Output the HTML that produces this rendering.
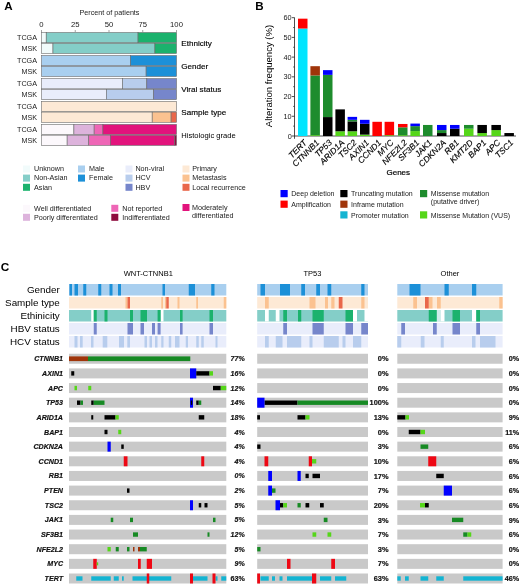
<!DOCTYPE html>
<html><head><meta charset="utf-8"><title>Figure</title>
<style>
html,body{margin:0;padding:0;background:#fff;}
body{width:520px;height:585px;overflow:hidden;}
svg{display:block;font-family:"Liberation Sans",Arial,sans-serif;}
</style></head><body>
<svg width="520" height="585" viewBox="0 0 520 585" shape-rendering="auto">
<rect x="0" y="0" width="520" height="585" fill="#ffffff"/>
<text x="4.30" y="10.30" font-size="11.6" text-anchor="start" font-weight="bold" font-style="normal" fill="#000">A</text>
<text x="109.50" y="14.60" font-size="7.2" text-anchor="middle" font-weight="normal" font-style="normal" fill="#1a1a1a">Percent of patients</text>
<text x="41.50" y="27.10" font-size="7.7" text-anchor="middle" font-weight="normal" font-style="normal" fill="#1a1a1a">0</text>
<line x1="41.50" y1="30" x2="41.50" y2="32" stroke="#666" stroke-width="0.6"/>
<text x="75.25" y="27.10" font-size="7.7" text-anchor="middle" font-weight="normal" font-style="normal" fill="#1a1a1a">25</text>
<line x1="75.25" y1="30" x2="75.25" y2="32" stroke="#666" stroke-width="0.6"/>
<text x="109.00" y="27.10" font-size="7.7" text-anchor="middle" font-weight="normal" font-style="normal" fill="#1a1a1a">50</text>
<line x1="109.00" y1="30" x2="109.00" y2="32" stroke="#666" stroke-width="0.6"/>
<text x="142.75" y="27.10" font-size="7.7" text-anchor="middle" font-weight="normal" font-style="normal" fill="#1a1a1a">75</text>
<line x1="142.75" y1="30" x2="142.75" y2="32" stroke="#666" stroke-width="0.6"/>
<text x="176.50" y="27.10" font-size="7.7" text-anchor="middle" font-weight="normal" font-style="normal" fill="#1a1a1a">100</text>
<line x1="176.50" y1="30" x2="176.50" y2="32" stroke="#666" stroke-width="0.6"/>
<rect x="41.50" y="32.50" width="4.72" height="10.20" fill="#F1FBFB" stroke="#6b6b6b" stroke-width="0.6"/>
<rect x="46.23" y="32.50" width="91.80" height="10.20" fill="#84CEC8" stroke="#6b6b6b" stroke-width="0.6"/>
<rect x="138.03" y="32.50" width="38.48" height="10.20" fill="#1BB26D" stroke="#6b6b6b" stroke-width="0.6"/>
<text x="37.00" y="40.30" font-size="7.2" text-anchor="end" font-weight="normal" font-style="normal" fill="#1a1a1a">TCGA</text>
<rect x="41.50" y="43.30" width="11.47" height="10.20" fill="#F1FBFB" stroke="#6b6b6b" stroke-width="0.6"/>
<rect x="52.98" y="43.30" width="101.92" height="10.20" fill="#84CEC8" stroke="#6b6b6b" stroke-width="0.6"/>
<rect x="154.90" y="43.30" width="21.60" height="10.20" fill="#1BB26D" stroke="#6b6b6b" stroke-width="0.6"/>
<text x="37.00" y="51.10" font-size="7.2" text-anchor="end" font-weight="normal" font-style="normal" fill="#1a1a1a">MSK</text>
<text x="181.30" y="45.70" font-size="8.1" text-anchor="start" font-weight="normal" font-style="normal" fill="#000" stroke="#000" stroke-width="0.15">Ethnicity</text>
<rect x="41.50" y="55.50" width="89.10" height="10.20" fill="#A9CFEF" stroke="#6b6b6b" stroke-width="0.6"/>
<rect x="130.60" y="55.50" width="45.90" height="10.20" fill="#1C90D8" stroke="#6b6b6b" stroke-width="0.6"/>
<text x="37.00" y="63.30" font-size="7.2" text-anchor="end" font-weight="normal" font-style="normal" fill="#1a1a1a">TCGA</text>
<rect x="41.50" y="66.30" width="104.62" height="10.20" fill="#A9CFEF" stroke="#6b6b6b" stroke-width="0.6"/>
<rect x="146.12" y="66.30" width="30.38" height="10.20" fill="#1C90D8" stroke="#6b6b6b" stroke-width="0.6"/>
<text x="37.00" y="74.10" font-size="7.2" text-anchor="end" font-weight="normal" font-style="normal" fill="#1a1a1a">MSK</text>
<text x="181.30" y="68.70" font-size="8.1" text-anchor="start" font-weight="normal" font-style="normal" fill="#000" stroke="#000" stroke-width="0.15">Gender</text>
<rect x="41.50" y="78.60" width="81.00" height="10.20" fill="#E9EDFB" stroke="#6b6b6b" stroke-width="0.6"/>
<rect x="122.50" y="78.60" width="24.30" height="10.20" fill="#B8CDED" stroke="#6b6b6b" stroke-width="0.6"/>
<rect x="146.80" y="78.60" width="29.70" height="10.20" fill="#7686CB" stroke="#6b6b6b" stroke-width="0.6"/>
<text x="37.00" y="86.40" font-size="7.2" text-anchor="end" font-weight="normal" font-style="normal" fill="#1a1a1a">TCGA</text>
<rect x="41.50" y="89.40" width="64.80" height="10.20" fill="#E9EDFB" stroke="#6b6b6b" stroke-width="0.6"/>
<rect x="106.30" y="89.40" width="47.25" height="10.20" fill="#B8CDED" stroke="#6b6b6b" stroke-width="0.6"/>
<rect x="153.55" y="89.40" width="22.95" height="10.20" fill="#7686CB" stroke="#6b6b6b" stroke-width="0.6"/>
<text x="37.00" y="97.20" font-size="7.2" text-anchor="end" font-weight="normal" font-style="normal" fill="#1a1a1a">MSK</text>
<text x="181.30" y="91.80" font-size="8.1" text-anchor="start" font-weight="normal" font-style="normal" fill="#000" stroke="#000" stroke-width="0.15">Viral status</text>
<rect x="41.50" y="101.30" width="135.00" height="10.20" fill="#FDE9D5" stroke="#6b6b6b" stroke-width="0.6"/>
<text x="37.00" y="109.10" font-size="7.2" text-anchor="end" font-weight="normal" font-style="normal" fill="#1a1a1a">TCGA</text>
<rect x="41.50" y="112.10" width="110.70" height="10.20" fill="#FDE9D5" stroke="#6b6b6b" stroke-width="0.6"/>
<rect x="152.20" y="112.10" width="18.90" height="10.20" fill="#FBC290" stroke="#6b6b6b" stroke-width="0.6"/>
<rect x="171.10" y="112.10" width="5.40" height="10.20" fill="#E9674A" stroke="#6b6b6b" stroke-width="0.6"/>
<text x="37.00" y="119.90" font-size="7.2" text-anchor="end" font-weight="normal" font-style="normal" fill="#1a1a1a">MSK</text>
<text x="181.30" y="114.50" font-size="8.1" text-anchor="start" font-weight="normal" font-style="normal" fill="#000" stroke="#000" stroke-width="0.15">Sample type</text>
<rect x="41.50" y="124.40" width="32.40" height="10.20" fill="#FCF8FC" stroke="#6b6b6b" stroke-width="0.6"/>
<rect x="73.90" y="124.40" width="20.25" height="10.20" fill="#DDB3DC" stroke="#6b6b6b" stroke-width="0.6"/>
<rect x="94.15" y="124.40" width="8.78" height="10.20" fill="#EE66B6" stroke="#6b6b6b" stroke-width="0.6"/>
<rect x="102.92" y="124.40" width="73.58" height="10.20" fill="#E2137C" stroke="#6b6b6b" stroke-width="0.6"/>
<text x="37.00" y="132.20" font-size="7.2" text-anchor="end" font-weight="normal" font-style="normal" fill="#1a1a1a">TCGA</text>
<rect x="41.50" y="135.20" width="25.65" height="10.20" fill="#FCF8FC" stroke="#6b6b6b" stroke-width="0.6"/>
<rect x="67.15" y="135.20" width="21.60" height="10.20" fill="#DDB3DC" stroke="#6b6b6b" stroke-width="0.6"/>
<rect x="88.75" y="135.20" width="21.60" height="10.20" fill="#EE66B6" stroke="#6b6b6b" stroke-width="0.6"/>
<rect x="110.35" y="135.20" width="64.39" height="10.20" fill="#E2137C" stroke="#6b6b6b" stroke-width="0.6"/>
<rect x="174.75" y="135.20" width="1.75" height="10.20" fill="#8E0C3E" stroke="#6b6b6b" stroke-width="0.6"/>
<text x="37.00" y="143.00" font-size="7.2" text-anchor="end" font-weight="normal" font-style="normal" fill="#1a1a1a">MSK</text>
<text x="181.30" y="137.60" font-size="7.6" text-anchor="start" font-weight="normal" font-style="normal" fill="#000">Histologic grade</text>
<rect x="23.00" y="165.50" width="7.00" height="7.00" fill="#F1FBFB"/>
<text x="34.00" y="171.30" font-size="7.2" text-anchor="start" font-weight="normal" font-style="normal" fill="#1a1a1a">Unknown</text>
<rect x="23.00" y="174.60" width="7.00" height="7.00" fill="#84CEC8"/>
<text x="34.00" y="180.40" font-size="7.2" text-anchor="start" font-weight="normal" font-style="normal" fill="#1a1a1a">Non-Asian</text>
<rect x="23.00" y="183.80" width="7.00" height="7.00" fill="#1BB26D"/>
<text x="34.00" y="189.60" font-size="7.2" text-anchor="start" font-weight="normal" font-style="normal" fill="#1a1a1a">Asian</text>
<rect x="78.00" y="165.50" width="7.00" height="7.00" fill="#A9CFEF"/>
<text x="89.00" y="171.30" font-size="7.2" text-anchor="start" font-weight="normal" font-style="normal" fill="#1a1a1a">Male</text>
<rect x="78.00" y="174.60" width="7.00" height="7.00" fill="#1C90D8"/>
<text x="89.00" y="180.40" font-size="7.2" text-anchor="start" font-weight="normal" font-style="normal" fill="#1a1a1a">Female</text>
<rect x="125.50" y="165.50" width="7.00" height="7.00" fill="#E9EDFB"/>
<text x="135.40" y="171.30" font-size="7.2" text-anchor="start" font-weight="normal" font-style="normal" fill="#1a1a1a">Non-viral</text>
<rect x="125.50" y="174.60" width="7.00" height="7.00" fill="#B8CDED"/>
<text x="135.40" y="180.40" font-size="7.2" text-anchor="start" font-weight="normal" font-style="normal" fill="#1a1a1a">HCV</text>
<rect x="125.50" y="183.80" width="7.00" height="7.00" fill="#7686CB"/>
<text x="135.40" y="189.60" font-size="7.2" text-anchor="start" font-weight="normal" font-style="normal" fill="#1a1a1a">HBV</text>
<rect x="182.50" y="165.50" width="7.00" height="7.00" fill="#FDE9D5"/>
<text x="192.20" y="171.30" font-size="7.2" text-anchor="start" font-weight="normal" font-style="normal" fill="#1a1a1a">Primary</text>
<rect x="182.50" y="174.60" width="7.00" height="7.00" fill="#FBC290"/>
<text x="192.20" y="180.40" font-size="7.2" text-anchor="start" font-weight="normal" font-style="normal" fill="#1a1a1a">Metastasis</text>
<rect x="182.50" y="183.80" width="7.00" height="7.00" fill="#E9674A"/>
<text x="192.20" y="189.60" font-size="7.2" text-anchor="start" font-weight="normal" font-style="normal" fill="#1a1a1a">Local recurrence</text>
<rect x="23.00" y="204.80" width="7.00" height="7.00" fill="#FCF8FC"/>
<text x="34.00" y="210.60" font-size="7.2" text-anchor="start" font-weight="normal" font-style="normal" fill="#1a1a1a">Well differentiated</text>
<rect x="23.00" y="213.80" width="7.00" height="7.00" fill="#DDB3DC"/>
<text x="34.00" y="219.60" font-size="7.2" text-anchor="start" font-weight="normal" font-style="normal" fill="#1a1a1a">Poorly differentiated</text>
<rect x="111.30" y="204.80" width="7.00" height="7.00" fill="#EE66B6"/>
<text x="122.30" y="210.60" font-size="7.2" text-anchor="start" font-weight="normal" font-style="normal" fill="#1a1a1a">Not reported</text>
<rect x="111.30" y="213.80" width="7.00" height="7.00" fill="#8E0C3E"/>
<text x="122.30" y="219.60" font-size="7.2" text-anchor="start" font-weight="normal" font-style="normal" fill="#1a1a1a">Indifferentiated</text>
<rect x="182.50" y="204.00" width="7.00" height="7.00" fill="#E2137C"/>
<text x="192.00" y="209.80" font-size="7.2" text-anchor="start" font-weight="normal" font-style="normal" fill="#1a1a1a">Moderately</text>
<text x="192.00" y="218.30" font-size="7.2" text-anchor="start" font-weight="normal" font-style="normal" fill="#1a1a1a">differentiated</text>
<text x="255.30" y="10.30" font-size="11.6" text-anchor="start" font-weight="bold" font-style="normal" fill="#000">B</text>
<line x1="294.5" y1="17.5" x2="294.5" y2="138.8" stroke="#222" stroke-width="0.8"/>
<line x1="294.5" y1="136.0" x2="516" y2="136.0" stroke="#222" stroke-width="0.8"/>
<line x1="291.9" y1="136.00" x2="294.5" y2="136.00" stroke="#222" stroke-width="0.8"/>
<text x="291.70" y="138.60" font-size="7.3" text-anchor="end" font-weight="normal" font-style="normal" fill="#1a1a1a">0</text>
<line x1="291.9" y1="116.28" x2="294.5" y2="116.28" stroke="#222" stroke-width="0.8"/>
<text x="291.70" y="118.88" font-size="7.3" text-anchor="end" font-weight="normal" font-style="normal" fill="#1a1a1a">10</text>
<line x1="291.9" y1="96.56" x2="294.5" y2="96.56" stroke="#222" stroke-width="0.8"/>
<text x="291.70" y="99.16" font-size="7.3" text-anchor="end" font-weight="normal" font-style="normal" fill="#1a1a1a">20</text>
<line x1="291.9" y1="76.84" x2="294.5" y2="76.84" stroke="#222" stroke-width="0.8"/>
<text x="291.70" y="79.44" font-size="7.3" text-anchor="end" font-weight="normal" font-style="normal" fill="#1a1a1a">30</text>
<line x1="291.9" y1="57.12" x2="294.5" y2="57.12" stroke="#222" stroke-width="0.8"/>
<text x="291.70" y="59.72" font-size="7.3" text-anchor="end" font-weight="normal" font-style="normal" fill="#1a1a1a">40</text>
<line x1="291.9" y1="37.40" x2="294.5" y2="37.40" stroke="#222" stroke-width="0.8"/>
<text x="291.70" y="40.00" font-size="7.3" text-anchor="end" font-weight="normal" font-style="normal" fill="#1a1a1a">50</text>
<line x1="291.9" y1="17.68" x2="294.5" y2="17.68" stroke="#222" stroke-width="0.8"/>
<text x="291.70" y="20.28" font-size="7.3" text-anchor="end" font-weight="normal" font-style="normal" fill="#1a1a1a">60</text>
<line x1="293.0" y1="126.14" x2="294.5" y2="126.14" stroke="#222" stroke-width="0.6"/>
<line x1="293.0" y1="106.42" x2="294.5" y2="106.42" stroke="#222" stroke-width="0.6"/>
<line x1="293.0" y1="86.70" x2="294.5" y2="86.70" stroke="#222" stroke-width="0.6"/>
<line x1="293.0" y1="66.98" x2="294.5" y2="66.98" stroke="#222" stroke-width="0.6"/>
<line x1="293.0" y1="47.26" x2="294.5" y2="47.26" stroke="#222" stroke-width="0.6"/>
<line x1="293.0" y1="27.54" x2="294.5" y2="27.54" stroke="#222" stroke-width="0.6"/>
<text transform="translate(271.6,76) rotate(-90)" font-size="9.55" text-anchor="middle" fill="#000">Alteration frequency (%)</text>
<rect x="298.00" y="28.53" width="9.50" height="107.47" fill="#00E5FF"/>
<rect x="298.00" y="18.67" width="9.50" height="9.86" fill="#FF0000"/>
<text transform="translate(307.50,143.20) rotate(-45)" font-size="8.5" font-style="italic" text-anchor="end" fill="#000" stroke="#000" stroke-width="0.15">TERT</text>
<rect x="310.40" y="135.21" width="9.50" height="0.79" fill="#55D619"/>
<rect x="310.40" y="75.46" width="9.50" height="59.75" fill="#1E8C2D"/>
<rect x="310.40" y="66.19" width="9.50" height="9.27" fill="#A0350A"/>
<text transform="translate(319.90,143.20) rotate(-45)" font-size="8.5" font-style="italic" text-anchor="end" fill="#000" stroke="#000" stroke-width="0.15">CTNNB1</text>
<rect x="323.00" y="117.07" width="9.50" height="18.93" fill="#000000"/>
<rect x="323.00" y="74.87" width="9.50" height="42.20" fill="#1E8C2D"/>
<rect x="323.00" y="70.14" width="9.50" height="4.73" fill="#0000FF"/>
<text transform="translate(332.50,143.20) rotate(-45)" font-size="8.5" font-style="italic" text-anchor="end" fill="#000" stroke="#000" stroke-width="0.15">TP53</text>
<rect x="335.40" y="131.27" width="9.50" height="4.73" fill="#55D619"/>
<rect x="335.40" y="109.38" width="9.50" height="21.89" fill="#000000"/>
<text transform="translate(344.90,143.20) rotate(-45)" font-size="8.5" font-style="italic" text-anchor="end" fill="#000" stroke="#000" stroke-width="0.15">ARID1A</text>
<rect x="347.60" y="131.27" width="9.50" height="4.73" fill="#55D619"/>
<rect x="347.60" y="121.41" width="9.50" height="9.86" fill="#000000"/>
<rect x="347.60" y="119.83" width="9.50" height="1.58" fill="#1E8C2D"/>
<rect x="347.60" y="116.87" width="9.50" height="2.96" fill="#0000FF"/>
<text transform="translate(357.10,143.20) rotate(-45)" font-size="8.5" font-style="italic" text-anchor="end" fill="#000" stroke="#000" stroke-width="0.15">TSC2</text>
<rect x="360.00" y="134.62" width="9.50" height="1.38" fill="#55D619"/>
<rect x="360.00" y="123.77" width="9.50" height="10.85" fill="#000000"/>
<rect x="360.00" y="119.83" width="9.50" height="3.94" fill="#0000FF"/>
<text transform="translate(369.50,143.20) rotate(-45)" font-size="8.5" font-style="italic" text-anchor="end" fill="#000" stroke="#000" stroke-width="0.15">AXIN1</text>
<rect x="372.40" y="121.80" width="9.50" height="14.20" fill="#FF0000"/>
<text transform="translate(381.90,143.20) rotate(-45)" font-size="8.5" font-style="italic" text-anchor="end" fill="#000" stroke="#000" stroke-width="0.15">CCND1</text>
<rect x="384.60" y="135.21" width="9.50" height="0.79" fill="#55D619"/>
<rect x="384.60" y="121.80" width="9.50" height="13.41" fill="#FF0000"/>
<text transform="translate(394.10,143.20) rotate(-45)" font-size="8.5" font-style="italic" text-anchor="end" fill="#000" stroke="#000" stroke-width="0.15">MYC</text>
<rect x="398.00" y="135.21" width="9.50" height="0.79" fill="#55D619"/>
<rect x="398.00" y="127.32" width="9.50" height="7.89" fill="#1E8C2D"/>
<rect x="398.00" y="123.97" width="9.50" height="3.35" fill="#FF0000"/>
<text transform="translate(407.50,143.20) rotate(-45)" font-size="8.5" font-style="italic" text-anchor="end" fill="#000" stroke="#000" stroke-width="0.15">NFE2L2</text>
<rect x="410.40" y="131.07" width="9.50" height="4.93" fill="#55D619"/>
<rect x="410.40" y="126.14" width="9.50" height="4.93" fill="#1E8C2D"/>
<rect x="410.40" y="123.58" width="9.50" height="2.56" fill="#0000FF"/>
<text transform="translate(419.90,143.20) rotate(-45)" font-size="8.5" font-style="italic" text-anchor="end" fill="#000" stroke="#000" stroke-width="0.15">SF3B1</text>
<rect x="423.00" y="124.96" width="9.50" height="11.04" fill="#1E8C2D"/>
<text transform="translate(432.50,143.20) rotate(-45)" font-size="8.5" font-style="italic" text-anchor="end" fill="#000" stroke="#000" stroke-width="0.15">JAK1</text>
<rect x="437.00" y="133.04" width="9.50" height="2.96" fill="#000000"/>
<rect x="437.00" y="130.08" width="9.50" height="2.96" fill="#1E8C2D"/>
<rect x="437.00" y="124.96" width="9.50" height="5.13" fill="#0000FF"/>
<text transform="translate(446.50,143.20) rotate(-45)" font-size="8.5" font-style="italic" text-anchor="end" fill="#000" stroke="#000" stroke-width="0.15">CDKN2A</text>
<rect x="450.00" y="128.70" width="9.50" height="7.30" fill="#000000"/>
<rect x="450.00" y="124.96" width="9.50" height="3.75" fill="#0000FF"/>
<text transform="translate(459.50,143.20) rotate(-45)" font-size="8.5" font-style="italic" text-anchor="end" fill="#000" stroke="#000" stroke-width="0.15">RB1</text>
<rect x="464.00" y="128.70" width="9.50" height="7.30" fill="#55D619"/>
<rect x="464.00" y="124.96" width="9.50" height="3.75" fill="#1E8C2D"/>
<text transform="translate(473.50,143.20) rotate(-45)" font-size="8.5" font-style="italic" text-anchor="end" fill="#000" stroke="#000" stroke-width="0.15">KMT2D</text>
<rect x="477.40" y="133.04" width="9.50" height="2.96" fill="#55D619"/>
<rect x="477.40" y="124.96" width="9.50" height="8.09" fill="#000000"/>
<text transform="translate(486.90,143.20) rotate(-45)" font-size="8.5" font-style="italic" text-anchor="end" fill="#000" stroke="#000" stroke-width="0.15">BAP1</text>
<rect x="491.40" y="130.08" width="9.50" height="5.92" fill="#55D619"/>
<rect x="491.40" y="124.96" width="9.50" height="5.13" fill="#000000"/>
<text transform="translate(500.90,143.20) rotate(-45)" font-size="8.5" font-style="italic" text-anchor="end" fill="#000" stroke="#000" stroke-width="0.15">APC</text>
<rect x="504.40" y="133.04" width="9.50" height="2.96" fill="#000000"/>
<text transform="translate(513.90,143.20) rotate(-45)" font-size="8.5" font-style="italic" text-anchor="end" fill="#000" stroke="#000" stroke-width="0.15">TSC1</text>
<text x="398.30" y="174.70" font-size="8.0" text-anchor="middle" font-weight="normal" font-style="normal" fill="#000" stroke="#000" stroke-width="0.2">Genes</text>
<rect x="280.50" y="190.00" width="7.20" height="7.20" fill="#0000FF"/>
<text x="291.30" y="196.20" font-size="7.0" text-anchor="start" font-weight="normal" font-style="normal" fill="#1a1a1a">Deep deletion</text>
<rect x="280.50" y="200.60" width="7.20" height="7.20" fill="#FF0000"/>
<text x="291.30" y="206.80" font-size="7.0" text-anchor="start" font-weight="normal" font-style="normal" fill="#1a1a1a">Amplification</text>
<rect x="340.30" y="190.00" width="7.20" height="7.20" fill="#000000"/>
<text x="351.10" y="196.20" font-size="7.0" text-anchor="start" font-weight="normal" font-style="normal" fill="#1a1a1a">Truncating mutation</text>
<rect x="340.30" y="200.60" width="7.20" height="7.20" fill="#A0350A"/>
<text x="351.10" y="206.80" font-size="7.0" text-anchor="start" font-weight="normal" font-style="normal" fill="#1a1a1a">Inframe mutation</text>
<rect x="340.30" y="211.30" width="7.20" height="7.20" fill="#14B4D2"/>
<text x="351.10" y="217.50" font-size="7.0" text-anchor="start" font-weight="normal" font-style="normal" fill="#1a1a1a">Promoter mutation</text>
<rect x="420.00" y="190.00" width="7.20" height="7.20" fill="#1E8C2D"/>
<text x="430.80" y="196.20" font-size="7.0" text-anchor="start" font-weight="normal" font-style="normal" fill="#1a1a1a">Missense mutation</text>
<text x="430.80" y="203.60" font-size="7.0" text-anchor="start" font-weight="normal" font-style="normal" fill="#1a1a1a">(putative driver)</text>
<rect x="420.00" y="211.30" width="7.20" height="7.20" fill="#55D619"/>
<text x="430.80" y="217.50" font-size="7.0" text-anchor="start" font-weight="normal" font-style="normal" fill="#1a1a1a">Missense Mutation (VUS)</text>
<text x="0.80" y="271.20" font-size="11.8" text-anchor="start" font-weight="bold" font-style="normal" fill="#000">C</text>
<text x="148.30" y="276.00" font-size="7.5" text-anchor="middle" font-weight="normal" font-style="normal" fill="#000">WNT-CTNNB1</text>
<text x="312.50" y="276.00" font-size="7.5" text-anchor="middle" font-weight="normal" font-style="normal" fill="#000">TP53</text>
<text x="450.00" y="276.00" font-size="7.5" text-anchor="middle" font-weight="normal" font-style="normal" fill="#000">Other</text>
<text x="59.80" y="293.20" font-size="9.85" text-anchor="end" font-weight="normal" font-style="normal" fill="#000">Gender</text>
<text x="59.80" y="306.20" font-size="9.85" text-anchor="end" font-weight="normal" font-style="normal" fill="#000">Sample type</text>
<text x="59.80" y="319.20" font-size="9.85" text-anchor="end" font-weight="normal" font-style="normal" fill="#000">Ethinicity</text>
<text x="59.80" y="332.20" font-size="9.85" text-anchor="end" font-weight="normal" font-style="normal" fill="#000">HBV status</text>
<text x="59.80" y="345.20" font-size="9.85" text-anchor="end" font-weight="normal" font-style="normal" fill="#000">HCV status</text>
<rect x="69.00" y="284.00" width="157.30" height="11.50" fill="#A9CFEF"/>
<rect x="69.00" y="297.00" width="157.30" height="11.50" fill="#FDE9D5"/>
<rect x="69.00" y="310.00" width="157.30" height="11.50" fill="#84CEC8"/>
<rect x="69.00" y="323.00" width="157.30" height="11.50" fill="#E9EDFB"/>
<rect x="69.00" y="336.00" width="157.30" height="11.50" fill="#E9EDFB"/>
<rect x="257.20" y="284.00" width="110.80" height="11.50" fill="#A9CFEF"/>
<rect x="257.20" y="297.00" width="110.80" height="11.50" fill="#FDE9D5"/>
<rect x="257.20" y="310.00" width="110.80" height="11.50" fill="#84CEC8"/>
<rect x="257.20" y="323.00" width="110.80" height="11.50" fill="#E9EDFB"/>
<rect x="257.20" y="336.00" width="110.80" height="11.50" fill="#E9EDFB"/>
<rect x="397.30" y="284.00" width="105.30" height="11.50" fill="#A9CFEF"/>
<rect x="397.30" y="297.00" width="105.30" height="11.50" fill="#FDE9D5"/>
<rect x="397.30" y="310.00" width="105.30" height="11.50" fill="#84CEC8"/>
<rect x="397.30" y="323.00" width="105.30" height="11.50" fill="#E9EDFB"/>
<rect x="397.30" y="336.00" width="105.30" height="11.50" fill="#E9EDFB"/>
<rect x="69.50" y="284.00" width="2.50" height="11.50" fill="#1C90D8"/>
<rect x="74.50" y="284.00" width="3.50" height="11.50" fill="#1C90D8"/>
<rect x="83.25" y="284.00" width="3.00" height="11.50" fill="#1C90D8"/>
<rect x="98.25" y="284.00" width="3.00" height="11.50" fill="#1C90D8"/>
<rect x="109.50" y="284.00" width="3.00" height="11.50" fill="#1C90D8"/>
<rect x="118.00" y="284.00" width="3.00" height="11.50" fill="#1C90D8"/>
<rect x="162.50" y="284.00" width="2.50" height="11.50" fill="#1C90D8"/>
<rect x="188.75" y="284.00" width="6.25" height="11.50" fill="#1C90D8"/>
<rect x="211.25" y="284.00" width="3.25" height="11.50" fill="#1C90D8"/>
<rect x="125.50" y="297.00" width="2.00" height="11.50" fill="#FBC290"/>
<rect x="161.25" y="297.00" width="1.75" height="11.50" fill="#FBC290"/>
<rect x="165.00" y="297.00" width="1.25" height="11.50" fill="#FBC290"/>
<rect x="177.50" y="297.00" width="2.00" height="11.50" fill="#FBC290"/>
<rect x="196.25" y="297.00" width="1.75" height="11.50" fill="#FBC290"/>
<rect x="223.75" y="297.00" width="2.55" height="11.50" fill="#FBC290"/>
<rect x="127.50" y="297.00" width="2.50" height="11.50" fill="#E9674A"/>
<rect x="166.25" y="297.00" width="2.50" height="11.50" fill="#E9674A"/>
<rect x="91.25" y="310.00" width="2.50" height="11.50" fill="#ffffff"/>
<rect x="160.60" y="310.00" width="2.90" height="11.50" fill="#ffffff"/>
<rect x="93.75" y="310.00" width="3.00" height="11.50" fill="#1BB26D"/>
<rect x="104.50" y="310.00" width="3.00" height="11.50" fill="#1BB26D"/>
<rect x="130.00" y="310.00" width="3.00" height="11.50" fill="#1BB26D"/>
<rect x="140.50" y="310.00" width="6.50" height="11.50" fill="#1BB26D"/>
<rect x="157.60" y="310.00" width="3.00" height="11.50" fill="#1BB26D"/>
<rect x="180.00" y="310.00" width="2.60" height="11.50" fill="#1BB26D"/>
<rect x="209.50" y="310.00" width="3.50" height="11.50" fill="#1BB26D"/>
<rect x="93.75" y="323.00" width="3.00" height="11.50" fill="#7686CB"/>
<rect x="127.50" y="323.00" width="5.50" height="11.50" fill="#7686CB"/>
<rect x="140.50" y="323.00" width="3.50" height="11.50" fill="#7686CB"/>
<rect x="152.00" y="323.00" width="3.00" height="11.50" fill="#7686CB"/>
<rect x="157.60" y="323.00" width="3.00" height="11.50" fill="#7686CB"/>
<rect x="180.00" y="323.00" width="2.60" height="11.50" fill="#7686CB"/>
<rect x="209.50" y="323.00" width="3.50" height="11.50" fill="#7686CB"/>
<rect x="74.50" y="336.00" width="3.00" height="11.50" fill="#B8CDED"/>
<rect x="80.00" y="336.00" width="2.70" height="11.50" fill="#B8CDED"/>
<rect x="91.00" y="336.00" width="2.50" height="11.50" fill="#B8CDED"/>
<rect x="102.70" y="336.00" width="4.60" height="11.50" fill="#B8CDED"/>
<rect x="119.00" y="336.00" width="5.00" height="11.50" fill="#B8CDED"/>
<rect x="127.30" y="336.00" width="2.70" height="11.50" fill="#B8CDED"/>
<rect x="144.50" y="336.00" width="2.50" height="11.50" fill="#B8CDED"/>
<rect x="149.50" y="336.00" width="2.50" height="11.50" fill="#B8CDED"/>
<rect x="155.00" y="336.00" width="2.50" height="11.50" fill="#B8CDED"/>
<rect x="161.25" y="336.00" width="2.25" height="11.50" fill="#B8CDED"/>
<rect x="168.75" y="336.00" width="2.50" height="11.50" fill="#B8CDED"/>
<rect x="175.00" y="336.00" width="4.50" height="11.50" fill="#B8CDED"/>
<rect x="185.75" y="336.00" width="2.25" height="11.50" fill="#B8CDED"/>
<rect x="196.25" y="336.00" width="2.50" height="11.50" fill="#B8CDED"/>
<rect x="201.25" y="336.00" width="2.50" height="11.50" fill="#B8CDED"/>
<rect x="215.50" y="336.00" width="2.00" height="11.50" fill="#B8CDED"/>
<rect x="260.50" y="284.00" width="4.50" height="11.50" fill="#1C90D8"/>
<rect x="280.00" y="284.00" width="10.00" height="11.50" fill="#1C90D8"/>
<rect x="301.25" y="284.00" width="3.75" height="11.50" fill="#1C90D8"/>
<rect x="316.25" y="284.00" width="3.75" height="11.50" fill="#1C90D8"/>
<rect x="327.50" y="284.00" width="3.75" height="11.50" fill="#1C90D8"/>
<rect x="361.25" y="284.00" width="3.25" height="11.50" fill="#1C90D8"/>
<rect x="265.00" y="297.00" width="3.75" height="11.50" fill="#FBC290"/>
<rect x="309.50" y="297.00" width="6.00" height="11.50" fill="#FBC290"/>
<rect x="325.00" y="297.00" width="3.00" height="11.50" fill="#FBC290"/>
<rect x="331.25" y="297.00" width="3.25" height="11.50" fill="#FBC290"/>
<rect x="361.25" y="297.00" width="3.25" height="11.50" fill="#FBC290"/>
<rect x="338.75" y="297.00" width="3.75" height="11.50" fill="#E9674A"/>
<rect x="265.00" y="310.00" width="3.75" height="11.50" fill="#ffffff"/>
<rect x="275.75" y="310.00" width="3.75" height="11.50" fill="#ffffff"/>
<rect x="353.00" y="310.00" width="4.00" height="11.50" fill="#ffffff"/>
<rect x="364.50" y="310.00" width="3.50" height="11.50" fill="#ffffff"/>
<rect x="283.25" y="310.00" width="3.75" height="11.50" fill="#1BB26D"/>
<rect x="298.00" y="310.00" width="3.25" height="11.50" fill="#1BB26D"/>
<rect x="312.50" y="310.00" width="11.25" height="11.50" fill="#1BB26D"/>
<rect x="345.50" y="310.00" width="7.50" height="11.50" fill="#1BB26D"/>
<rect x="283.25" y="323.00" width="3.75" height="11.50" fill="#7686CB"/>
<rect x="312.50" y="323.00" width="11.25" height="11.50" fill="#7686CB"/>
<rect x="345.50" y="323.00" width="7.50" height="11.50" fill="#7686CB"/>
<rect x="361.25" y="323.00" width="6.75" height="11.50" fill="#7686CB"/>
<rect x="265.00" y="336.00" width="3.75" height="11.50" fill="#B8CDED"/>
<rect x="275.75" y="336.00" width="6.75" height="11.50" fill="#B8CDED"/>
<rect x="287.00" y="336.00" width="14.25" height="11.50" fill="#B8CDED"/>
<rect x="309.50" y="336.00" width="3.00" height="11.50" fill="#B8CDED"/>
<rect x="323.75" y="336.00" width="15.00" height="11.50" fill="#B8CDED"/>
<rect x="342.50" y="336.00" width="3.00" height="11.50" fill="#B8CDED"/>
<rect x="353.00" y="336.00" width="8.25" height="11.50" fill="#B8CDED"/>
<rect x="409.50" y="284.00" width="11.00" height="11.50" fill="#1C90D8"/>
<rect x="444.50" y="284.00" width="4.25" height="11.50" fill="#1C90D8"/>
<rect x="472.00" y="284.00" width="4.25" height="11.50" fill="#1C90D8"/>
<rect x="413.25" y="297.00" width="3.75" height="11.50" fill="#FBC290"/>
<rect x="428.75" y="297.00" width="3.75" height="11.50" fill="#FBC290"/>
<rect x="437.00" y="297.00" width="3.75" height="11.50" fill="#FBC290"/>
<rect x="499.25" y="297.00" width="3.35" height="11.50" fill="#FBC290"/>
<rect x="425.00" y="297.00" width="3.75" height="11.50" fill="#E9674A"/>
<rect x="436.75" y="310.00" width="7.75" height="11.50" fill="#ffffff"/>
<rect x="472.00" y="310.00" width="4.25" height="11.50" fill="#ffffff"/>
<rect x="436.60" y="310.00" width="4.30" height="11.50" fill="#CFECE9"/>
<rect x="428.75" y="310.00" width="8.00" height="11.50" fill="#1BB26D"/>
<rect x="452.50" y="310.00" width="7.50" height="11.50" fill="#1BB26D"/>
<rect x="476.25" y="310.00" width="3.75" height="11.50" fill="#1BB26D"/>
<rect x="401.25" y="323.00" width="3.75" height="11.50" fill="#7686CB"/>
<rect x="433.00" y="323.00" width="3.75" height="11.50" fill="#7686CB"/>
<rect x="452.50" y="323.00" width="7.50" height="11.50" fill="#7686CB"/>
<rect x="476.25" y="323.00" width="3.75" height="11.50" fill="#7686CB"/>
<rect x="397.30" y="336.00" width="3.95" height="11.50" fill="#B8CDED"/>
<rect x="420.75" y="336.00" width="3.75" height="11.50" fill="#B8CDED"/>
<rect x="440.75" y="336.00" width="3.00" height="11.50" fill="#B8CDED"/>
<rect x="472.00" y="336.00" width="3.50" height="11.50" fill="#B8CDED"/>
<rect x="480.00" y="336.00" width="15.50" height="11.50" fill="#B8CDED"/>
<text x="63.00" y="361.25" font-size="7.1" text-anchor="end" font-weight="bold" font-style="italic" fill="#111" stroke="#111" stroke-width="0.18">CTNNB1</text>
<rect x="69.00" y="353.75" width="157.30" height="10.00" fill="#C9C9C9"/>
<rect x="257.20" y="353.75" width="110.80" height="10.00" fill="#C9C9C9"/>
<rect x="397.30" y="353.75" width="105.30" height="10.00" fill="#C9C9C9"/>
<text x="244.80" y="361.25" font-size="7.1" text-anchor="end" font-weight="bold" font-style="italic" fill="#111" stroke="#111" stroke-width="0.18">77%</text>
<text x="388.50" y="361.35" font-size="7.4" text-anchor="end" font-weight="bold" font-style="normal" fill="#111" stroke="#111" stroke-width="0.18">0%</text>
<text x="519.20" y="361.35" font-size="7.2" text-anchor="end" font-weight="bold" font-style="normal" fill="#111" stroke="#111" stroke-width="0.18">0%</text>
<text x="63.00" y="375.90" font-size="7.1" text-anchor="end" font-weight="bold" font-style="italic" fill="#111" stroke="#111" stroke-width="0.18">AXIN1</text>
<rect x="69.00" y="368.40" width="157.30" height="10.00" fill="#C9C9C9"/>
<rect x="257.20" y="368.40" width="110.80" height="10.00" fill="#C9C9C9"/>
<rect x="397.30" y="368.40" width="105.30" height="10.00" fill="#C9C9C9"/>
<text x="244.80" y="375.90" font-size="7.1" text-anchor="end" font-weight="bold" font-style="italic" fill="#111" stroke="#111" stroke-width="0.18">16%</text>
<text x="388.50" y="376.00" font-size="7.4" text-anchor="end" font-weight="bold" font-style="normal" fill="#111" stroke="#111" stroke-width="0.18">0%</text>
<text x="519.20" y="376.00" font-size="7.2" text-anchor="end" font-weight="bold" font-style="normal" fill="#111" stroke="#111" stroke-width="0.18">0%</text>
<text x="63.00" y="390.55" font-size="7.1" text-anchor="end" font-weight="bold" font-style="italic" fill="#111" stroke="#111" stroke-width="0.18">APC</text>
<rect x="69.00" y="383.05" width="157.30" height="10.00" fill="#C9C9C9"/>
<rect x="257.20" y="383.05" width="110.80" height="10.00" fill="#C9C9C9"/>
<rect x="397.30" y="383.05" width="105.30" height="10.00" fill="#C9C9C9"/>
<text x="244.80" y="390.55" font-size="7.1" text-anchor="end" font-weight="bold" font-style="italic" fill="#111" stroke="#111" stroke-width="0.18">12%</text>
<text x="388.50" y="390.65" font-size="7.4" text-anchor="end" font-weight="bold" font-style="normal" fill="#111" stroke="#111" stroke-width="0.18">0%</text>
<text x="519.20" y="390.65" font-size="7.2" text-anchor="end" font-weight="bold" font-style="normal" fill="#111" stroke="#111" stroke-width="0.18">0%</text>
<text x="63.00" y="405.20" font-size="7.1" text-anchor="end" font-weight="bold" font-style="italic" fill="#111" stroke="#111" stroke-width="0.18">TP53</text>
<rect x="69.00" y="397.70" width="157.30" height="10.00" fill="#C9C9C9"/>
<rect x="257.20" y="397.70" width="110.80" height="10.00" fill="#C9C9C9"/>
<rect x="397.30" y="397.70" width="105.30" height="10.00" fill="#C9C9C9"/>
<text x="244.80" y="405.20" font-size="7.1" text-anchor="end" font-weight="bold" font-style="italic" fill="#111" stroke="#111" stroke-width="0.18">14%</text>
<text x="388.50" y="405.30" font-size="7.4" text-anchor="end" font-weight="bold" font-style="normal" fill="#111" stroke="#111" stroke-width="0.18">100%</text>
<text x="519.20" y="405.30" font-size="7.2" text-anchor="end" font-weight="bold" font-style="normal" fill="#111" stroke="#111" stroke-width="0.18">0%</text>
<text x="63.00" y="419.85" font-size="7.1" text-anchor="end" font-weight="bold" font-style="italic" fill="#111" stroke="#111" stroke-width="0.18">ARID1A</text>
<rect x="69.00" y="412.35" width="157.30" height="10.00" fill="#C9C9C9"/>
<rect x="257.20" y="412.35" width="110.80" height="10.00" fill="#C9C9C9"/>
<rect x="397.30" y="412.35" width="105.30" height="10.00" fill="#C9C9C9"/>
<text x="244.80" y="419.85" font-size="7.1" text-anchor="end" font-weight="bold" font-style="italic" fill="#111" stroke="#111" stroke-width="0.18">18%</text>
<text x="388.50" y="419.95" font-size="7.4" text-anchor="end" font-weight="bold" font-style="normal" fill="#111" stroke="#111" stroke-width="0.18">13%</text>
<text x="519.20" y="419.95" font-size="7.2" text-anchor="end" font-weight="bold" font-style="normal" fill="#111" stroke="#111" stroke-width="0.18">9%</text>
<text x="63.00" y="434.50" font-size="7.1" text-anchor="end" font-weight="bold" font-style="italic" fill="#111" stroke="#111" stroke-width="0.18">BAP1</text>
<rect x="69.00" y="427.00" width="157.30" height="10.00" fill="#C9C9C9"/>
<rect x="257.20" y="427.00" width="110.80" height="10.00" fill="#C9C9C9"/>
<rect x="397.30" y="427.00" width="105.30" height="10.00" fill="#C9C9C9"/>
<text x="244.80" y="434.50" font-size="7.1" text-anchor="end" font-weight="bold" font-style="italic" fill="#111" stroke="#111" stroke-width="0.18">4%</text>
<text x="388.50" y="434.60" font-size="7.4" text-anchor="end" font-weight="bold" font-style="normal" fill="#111" stroke="#111" stroke-width="0.18">0%</text>
<text x="519.20" y="434.60" font-size="7.2" text-anchor="end" font-weight="bold" font-style="normal" fill="#111" stroke="#111" stroke-width="0.18">11%</text>
<text x="63.00" y="449.15" font-size="7.1" text-anchor="end" font-weight="bold" font-style="italic" fill="#111" stroke="#111" stroke-width="0.18">CDKN2A</text>
<rect x="69.00" y="441.65" width="157.30" height="10.00" fill="#C9C9C9"/>
<rect x="257.20" y="441.65" width="110.80" height="10.00" fill="#C9C9C9"/>
<rect x="397.30" y="441.65" width="105.30" height="10.00" fill="#C9C9C9"/>
<text x="244.80" y="449.15" font-size="7.1" text-anchor="end" font-weight="bold" font-style="italic" fill="#111" stroke="#111" stroke-width="0.18">4%</text>
<text x="388.50" y="449.25" font-size="7.4" text-anchor="end" font-weight="bold" font-style="normal" fill="#111" stroke="#111" stroke-width="0.18">3%</text>
<text x="519.20" y="449.25" font-size="7.2" text-anchor="end" font-weight="bold" font-style="normal" fill="#111" stroke="#111" stroke-width="0.18">6%</text>
<text x="63.00" y="463.80" font-size="7.1" text-anchor="end" font-weight="bold" font-style="italic" fill="#111" stroke="#111" stroke-width="0.18">CCND1</text>
<rect x="69.00" y="456.30" width="157.30" height="10.00" fill="#C9C9C9"/>
<rect x="257.20" y="456.30" width="110.80" height="10.00" fill="#C9C9C9"/>
<rect x="397.30" y="456.30" width="105.30" height="10.00" fill="#C9C9C9"/>
<text x="244.80" y="463.80" font-size="7.1" text-anchor="end" font-weight="bold" font-style="italic" fill="#111" stroke="#111" stroke-width="0.18">4%</text>
<text x="388.50" y="463.90" font-size="7.4" text-anchor="end" font-weight="bold" font-style="normal" fill="#111" stroke="#111" stroke-width="0.18">10%</text>
<text x="519.20" y="463.90" font-size="7.2" text-anchor="end" font-weight="bold" font-style="normal" fill="#111" stroke="#111" stroke-width="0.18">6%</text>
<text x="63.00" y="478.45" font-size="7.1" text-anchor="end" font-weight="bold" font-style="italic" fill="#111" stroke="#111" stroke-width="0.18">RB1</text>
<rect x="69.00" y="470.95" width="157.30" height="10.00" fill="#C9C9C9"/>
<rect x="257.20" y="470.95" width="110.80" height="10.00" fill="#C9C9C9"/>
<rect x="397.30" y="470.95" width="105.30" height="10.00" fill="#C9C9C9"/>
<text x="244.80" y="478.45" font-size="7.1" text-anchor="end" font-weight="bold" font-style="italic" fill="#111" stroke="#111" stroke-width="0.18">0%</text>
<text x="388.50" y="478.55" font-size="7.4" text-anchor="end" font-weight="bold" font-style="normal" fill="#111" stroke="#111" stroke-width="0.18">17%</text>
<text x="519.20" y="478.55" font-size="7.2" text-anchor="end" font-weight="bold" font-style="normal" fill="#111" stroke="#111" stroke-width="0.18">6%</text>
<text x="63.00" y="493.10" font-size="7.1" text-anchor="end" font-weight="bold" font-style="italic" fill="#111" stroke="#111" stroke-width="0.18">PTEN</text>
<rect x="69.00" y="485.60" width="157.30" height="10.00" fill="#C9C9C9"/>
<rect x="257.20" y="485.60" width="110.80" height="10.00" fill="#C9C9C9"/>
<rect x="397.30" y="485.60" width="105.30" height="10.00" fill="#C9C9C9"/>
<text x="244.80" y="493.10" font-size="7.1" text-anchor="end" font-weight="bold" font-style="italic" fill="#111" stroke="#111" stroke-width="0.18">2%</text>
<text x="388.50" y="493.20" font-size="7.4" text-anchor="end" font-weight="bold" font-style="normal" fill="#111" stroke="#111" stroke-width="0.18">7%</text>
<text x="519.20" y="493.20" font-size="7.2" text-anchor="end" font-weight="bold" font-style="normal" fill="#111" stroke="#111" stroke-width="0.18">6%</text>
<text x="63.00" y="507.75" font-size="7.1" text-anchor="end" font-weight="bold" font-style="italic" fill="#111" stroke="#111" stroke-width="0.18">TSC2</text>
<rect x="69.00" y="500.25" width="157.30" height="10.00" fill="#C9C9C9"/>
<rect x="257.20" y="500.25" width="110.80" height="10.00" fill="#C9C9C9"/>
<rect x="397.30" y="500.25" width="105.30" height="10.00" fill="#C9C9C9"/>
<text x="244.80" y="507.75" font-size="7.1" text-anchor="end" font-weight="bold" font-style="italic" fill="#111" stroke="#111" stroke-width="0.18">5%</text>
<text x="388.50" y="507.85" font-size="7.4" text-anchor="end" font-weight="bold" font-style="normal" fill="#111" stroke="#111" stroke-width="0.18">20%</text>
<text x="519.20" y="507.85" font-size="7.2" text-anchor="end" font-weight="bold" font-style="normal" fill="#111" stroke="#111" stroke-width="0.18">6%</text>
<text x="63.00" y="522.40" font-size="7.1" text-anchor="end" font-weight="bold" font-style="italic" fill="#111" stroke="#111" stroke-width="0.18">JAK1</text>
<rect x="69.00" y="514.90" width="157.30" height="10.00" fill="#C9C9C9"/>
<rect x="257.20" y="514.90" width="110.80" height="10.00" fill="#C9C9C9"/>
<rect x="397.30" y="514.90" width="105.30" height="10.00" fill="#C9C9C9"/>
<text x="244.80" y="522.40" font-size="7.1" text-anchor="end" font-weight="bold" font-style="italic" fill="#111" stroke="#111" stroke-width="0.18">5%</text>
<text x="388.50" y="522.50" font-size="7.4" text-anchor="end" font-weight="bold" font-style="normal" fill="#111" stroke="#111" stroke-width="0.18">3%</text>
<text x="519.20" y="522.50" font-size="7.2" text-anchor="end" font-weight="bold" font-style="normal" fill="#111" stroke="#111" stroke-width="0.18">9%</text>
<text x="63.00" y="537.05" font-size="7.1" text-anchor="end" font-weight="bold" font-style="italic" fill="#111" stroke="#111" stroke-width="0.18">SF3B1</text>
<rect x="69.00" y="529.55" width="157.30" height="10.00" fill="#C9C9C9"/>
<rect x="257.20" y="529.55" width="110.80" height="10.00" fill="#C9C9C9"/>
<rect x="397.30" y="529.55" width="105.30" height="10.00" fill="#C9C9C9"/>
<text x="244.80" y="537.05" font-size="7.1" text-anchor="end" font-weight="bold" font-style="italic" fill="#111" stroke="#111" stroke-width="0.18">12%</text>
<text x="388.50" y="537.15" font-size="7.4" text-anchor="end" font-weight="bold" font-style="normal" fill="#111" stroke="#111" stroke-width="0.18">7%</text>
<text x="519.20" y="537.15" font-size="7.2" text-anchor="end" font-weight="bold" font-style="normal" fill="#111" stroke="#111" stroke-width="0.18">6%</text>
<text x="63.00" y="551.70" font-size="7.1" text-anchor="end" font-weight="bold" font-style="italic" fill="#111" stroke="#111" stroke-width="0.18">NFE2L2</text>
<rect x="69.00" y="544.20" width="157.30" height="10.00" fill="#C9C9C9"/>
<rect x="257.20" y="544.20" width="110.80" height="10.00" fill="#C9C9C9"/>
<rect x="397.30" y="544.20" width="105.30" height="10.00" fill="#C9C9C9"/>
<text x="244.80" y="551.70" font-size="7.1" text-anchor="end" font-weight="bold" font-style="italic" fill="#111" stroke="#111" stroke-width="0.18">5%</text>
<text x="388.50" y="551.80" font-size="7.4" text-anchor="end" font-weight="bold" font-style="normal" fill="#111" stroke="#111" stroke-width="0.18">3%</text>
<text x="519.20" y="551.80" font-size="7.2" text-anchor="end" font-weight="bold" font-style="normal" fill="#111" stroke="#111" stroke-width="0.18">0%</text>
<text x="63.00" y="566.35" font-size="7.1" text-anchor="end" font-weight="bold" font-style="italic" fill="#111" stroke="#111" stroke-width="0.18">MYC</text>
<rect x="69.00" y="558.85" width="157.30" height="10.00" fill="#C9C9C9"/>
<rect x="257.20" y="558.85" width="110.80" height="10.00" fill="#C9C9C9"/>
<rect x="397.30" y="558.85" width="105.30" height="10.00" fill="#C9C9C9"/>
<text x="244.80" y="566.35" font-size="7.1" text-anchor="end" font-weight="bold" font-style="italic" fill="#111" stroke="#111" stroke-width="0.18">9%</text>
<text x="388.50" y="566.45" font-size="7.4" text-anchor="end" font-weight="bold" font-style="normal" fill="#111" stroke="#111" stroke-width="0.18">7%</text>
<text x="519.20" y="566.45" font-size="7.2" text-anchor="end" font-weight="bold" font-style="normal" fill="#111" stroke="#111" stroke-width="0.18">0%</text>
<text x="63.00" y="581.00" font-size="7.1" text-anchor="end" font-weight="bold" font-style="italic" fill="#111" stroke="#111" stroke-width="0.18">TERT</text>
<rect x="69.00" y="573.50" width="157.30" height="10.00" fill="#C9C9C9"/>
<rect x="257.20" y="573.50" width="110.80" height="10.00" fill="#C9C9C9"/>
<rect x="397.30" y="573.50" width="105.30" height="10.00" fill="#C9C9C9"/>
<text x="244.80" y="581.00" font-size="7.1" text-anchor="end" font-weight="bold" font-style="normal" fill="#111" stroke="#111" stroke-width="0.18">63%</text>
<text x="388.50" y="581.10" font-size="7.4" text-anchor="end" font-weight="bold" font-style="normal" fill="#111" stroke="#111" stroke-width="0.18">63%</text>
<text x="519.20" y="581.10" font-size="7.2" text-anchor="end" font-weight="bold" font-style="normal" fill="#111" stroke="#111" stroke-width="0.18">46%</text>
<rect x="69.00" y="356.40" width="19.00" height="4.70" fill="#A0350A"/>
<rect x="88.00" y="356.40" width="102.30" height="4.70" fill="#178A24"/>
<rect x="71.25" y="371.20" width="3.00" height="4.40" fill="#000000"/>
<rect x="190.00" y="368.40" width="6.25" height="10.00" fill="#0000FF"/>
<rect x="196.25" y="371.20" width="13.25" height="4.40" fill="#000000"/>
<rect x="209.50" y="371.20" width="3.50" height="4.40" fill="#55D619"/>
<rect x="74.50" y="385.85" width="2.50" height="4.40" fill="#55D619"/>
<rect x="88.25" y="385.85" width="3.00" height="4.40" fill="#55D619"/>
<rect x="213.00" y="385.85" width="7.75" height="4.40" fill="#000000"/>
<rect x="220.75" y="385.85" width="5.55" height="4.40" fill="#55D619"/>
<rect x="77.00" y="400.50" width="3.50" height="4.40" fill="#000000"/>
<rect x="80.50" y="400.50" width="2.50" height="4.40" fill="#178A24"/>
<rect x="91.25" y="400.50" width="2.50" height="4.40" fill="#000000"/>
<rect x="93.75" y="400.50" width="10.75" height="4.40" fill="#178A24"/>
<rect x="190.00" y="397.70" width="3.00" height="10.00" fill="#0000FF"/>
<rect x="190.80" y="400.50" width="1.40" height="4.40" fill="#000000"/>
<rect x="196.25" y="400.50" width="2.50" height="4.40" fill="#000000"/>
<rect x="198.75" y="400.50" width="2.50" height="4.40" fill="#178A24"/>
<rect x="91.25" y="415.15" width="2.00" height="4.40" fill="#000000"/>
<rect x="104.50" y="415.15" width="11.00" height="4.40" fill="#000000"/>
<rect x="115.50" y="415.15" width="3.25" height="4.40" fill="#55D619"/>
<rect x="198.75" y="415.15" width="5.50" height="4.40" fill="#000000"/>
<rect x="104.50" y="429.80" width="3.00" height="4.40" fill="#000000"/>
<rect x="118.25" y="429.80" width="3.00" height="4.40" fill="#55D619"/>
<rect x="107.50" y="441.65" width="3.25" height="10.00" fill="#0000FF"/>
<rect x="121.25" y="444.45" width="2.50" height="4.40" fill="#000000"/>
<rect x="123.75" y="456.30" width="3.75" height="10.00" fill="#EE0814"/>
<rect x="201.25" y="456.30" width="3.00" height="10.00" fill="#EE0814"/>
<rect x="127.00" y="488.40" width="2.50" height="4.40" fill="#000000"/>
<rect x="190.00" y="500.25" width="3.00" height="10.00" fill="#0000FF"/>
<rect x="198.75" y="503.05" width="2.50" height="4.40" fill="#000000"/>
<rect x="204.50" y="503.05" width="3.00" height="4.40" fill="#000000"/>
<rect x="110.75" y="517.70" width="2.50" height="4.40" fill="#178A24"/>
<rect x="130.00" y="517.70" width="3.00" height="4.40" fill="#178A24"/>
<rect x="213.00" y="517.70" width="2.50" height="4.40" fill="#178A24"/>
<rect x="133.00" y="532.35" width="5.00" height="4.40" fill="#178A24"/>
<rect x="207.50" y="532.35" width="2.00" height="4.40" fill="#178A24"/>
<rect x="107.50" y="547.00" width="3.25" height="4.40" fill="#55D619"/>
<rect x="115.75" y="547.00" width="3.00" height="4.40" fill="#178A24"/>
<rect x="127.00" y="547.00" width="2.50" height="4.40" fill="#178A24"/>
<rect x="133.00" y="547.00" width="1.50" height="4.40" fill="#A0350A"/>
<rect x="138.00" y="547.00" width="2.00" height="4.40" fill="#A0350A"/>
<rect x="140.00" y="547.00" width="6.75" height="4.40" fill="#178A24"/>
<rect x="93.25" y="558.85" width="3.50" height="10.00" fill="#EE0814"/>
<rect x="96.75" y="562.35" width="1.45" height="3.00" fill="#55D619"/>
<rect x="138.00" y="558.85" width="2.75" height="10.00" fill="#EE0814"/>
<rect x="146.75" y="558.85" width="5.25" height="10.00" fill="#EE0814"/>
<rect x="76.25" y="576.30" width="6.25" height="4.40" fill="#14B4D2"/>
<rect x="91.25" y="576.30" width="19.50" height="4.40" fill="#14B4D2"/>
<rect x="113.75" y="576.30" width="5.00" height="4.40" fill="#14B4D2"/>
<rect x="122.00" y="576.30" width="1.75" height="4.40" fill="#14B4D2"/>
<rect x="132.50" y="576.30" width="38.75" height="4.40" fill="#14B4D2"/>
<rect x="193.00" y="576.30" width="14.50" height="4.40" fill="#14B4D2"/>
<rect x="215.50" y="576.30" width="2.00" height="4.40" fill="#14B4D2"/>
<rect x="221.25" y="576.30" width="5.05" height="4.40" fill="#14B4D2"/>
<rect x="146.75" y="573.50" width="2.50" height="10.00" fill="#EE0814"/>
<rect x="190.00" y="573.50" width="3.00" height="10.00" fill="#EE0814"/>
<rect x="212.50" y="573.50" width="3.00" height="10.00" fill="#EE0814"/>
<rect x="264.50" y="400.50" width="33.00" height="4.40" fill="#000000"/>
<rect x="297.50" y="400.50" width="70.50" height="4.40" fill="#178A24"/>
<rect x="257.20" y="397.70" width="7.30" height="10.00" fill="#0000FF"/>
<rect x="257.20" y="415.15" width="2.80" height="4.40" fill="#000000"/>
<rect x="297.50" y="415.15" width="8.00" height="4.40" fill="#000000"/>
<rect x="305.50" y="415.15" width="4.00" height="4.40" fill="#55D619"/>
<rect x="257.20" y="444.45" width="3.30" height="4.40" fill="#000000"/>
<rect x="264.50" y="456.30" width="3.75" height="10.00" fill="#EE0814"/>
<rect x="308.75" y="456.30" width="3.25" height="10.00" fill="#EE0814"/>
<rect x="312.00" y="459.10" width="4.25" height="4.40" fill="#55D619"/>
<rect x="268.25" y="470.95" width="3.75" height="10.00" fill="#0000FF"/>
<rect x="297.50" y="470.95" width="3.25" height="10.00" fill="#0000FF"/>
<rect x="305.50" y="473.75" width="3.25" height="4.40" fill="#000000"/>
<rect x="312.50" y="473.75" width="7.50" height="4.40" fill="#000000"/>
<rect x="268.25" y="485.60" width="3.75" height="10.00" fill="#0000FF"/>
<rect x="272.00" y="488.40" width="3.50" height="4.40" fill="#178A24"/>
<rect x="275.50" y="500.25" width="4.50" height="10.00" fill="#0000FF"/>
<rect x="280.00" y="503.05" width="3.25" height="4.40" fill="#000000"/>
<rect x="283.25" y="503.05" width="3.75" height="4.40" fill="#55D619"/>
<rect x="297.50" y="503.05" width="3.25" height="4.40" fill="#178A24"/>
<rect x="305.50" y="503.05" width="3.75" height="4.40" fill="#000000"/>
<rect x="320.00" y="503.05" width="3.75" height="4.40" fill="#000000"/>
<rect x="323.75" y="517.70" width="3.75" height="4.40" fill="#178A24"/>
<rect x="312.50" y="532.35" width="3.75" height="4.40" fill="#55D619"/>
<rect x="327.50" y="532.35" width="3.75" height="4.40" fill="#55D619"/>
<rect x="257.20" y="547.00" width="3.30" height="4.40" fill="#178A24"/>
<rect x="287.00" y="558.85" width="3.50" height="10.00" fill="#EE0814"/>
<rect x="331.25" y="558.85" width="3.75" height="10.00" fill="#EE0814"/>
<rect x="260.50" y="576.30" width="8.25" height="4.40" fill="#14B4D2"/>
<rect x="272.00" y="576.30" width="3.00" height="4.40" fill="#14B4D2"/>
<rect x="279.50" y="576.30" width="3.00" height="4.40" fill="#14B4D2"/>
<rect x="287.00" y="576.30" width="25.00" height="4.40" fill="#14B4D2"/>
<rect x="320.00" y="576.30" width="11.25" height="4.40" fill="#14B4D2"/>
<rect x="335.00" y="576.30" width="11.25" height="4.40" fill="#14B4D2"/>
<rect x="257.20" y="573.50" width="2.80" height="10.00" fill="#EE0814"/>
<rect x="312.00" y="573.50" width="4.25" height="10.00" fill="#EE0814"/>
<rect x="397.30" y="415.15" width="8.20" height="4.40" fill="#000000"/>
<rect x="405.50" y="415.15" width="3.50" height="4.40" fill="#55D619"/>
<rect x="408.75" y="429.80" width="11.75" height="4.40" fill="#000000"/>
<rect x="420.50" y="429.80" width="4.50" height="4.40" fill="#55D619"/>
<rect x="420.50" y="444.45" width="7.75" height="4.40" fill="#178A24"/>
<rect x="428.25" y="456.30" width="8.00" height="10.00" fill="#EE0814"/>
<rect x="436.25" y="473.75" width="7.50" height="4.40" fill="#000000"/>
<rect x="443.75" y="485.60" width="8.25" height="10.00" fill="#0000FF"/>
<rect x="420.00" y="503.05" width="5.00" height="4.40" fill="#55D619"/>
<rect x="425.00" y="503.05" width="3.75" height="4.40" fill="#000000"/>
<rect x="452.00" y="517.70" width="11.25" height="4.40" fill="#178A24"/>
<rect x="463.25" y="532.35" width="4.25" height="4.40" fill="#178A24"/>
<rect x="467.50" y="532.35" width="3.75" height="4.40" fill="#55D619"/>
<rect x="397.30" y="576.30" width="3.45" height="4.40" fill="#14B4D2"/>
<rect x="405.00" y="576.30" width="3.75" height="4.40" fill="#14B4D2"/>
<rect x="420.50" y="576.30" width="7.75" height="4.40" fill="#14B4D2"/>
<rect x="436.25" y="576.30" width="7.50" height="4.40" fill="#14B4D2"/>
<rect x="463.25" y="576.30" width="39.35" height="4.40" fill="#14B4D2"/>
</svg>
</body></html>
